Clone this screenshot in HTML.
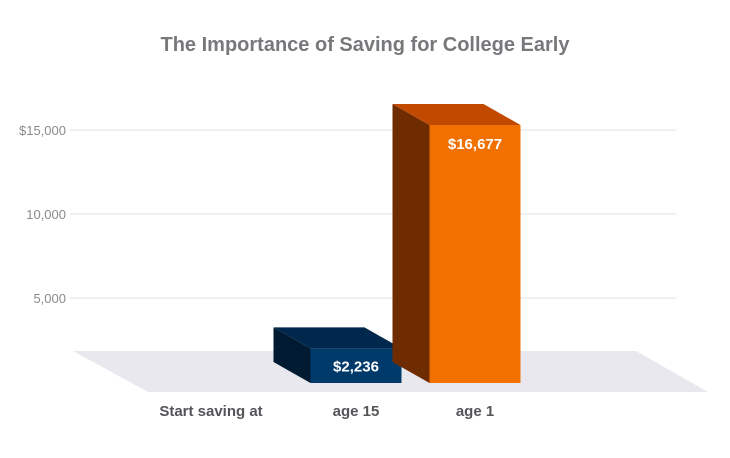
<!DOCTYPE html>
<html><head><meta charset="utf-8"><style>
body{margin:0;background:#fff;}
svg{display:block;font-family:"Liberation Sans",Arial,sans-serif;}
</style></head><body>
<svg id="chart" width="730" height="458" viewBox="0 0 730 458">
<text x="365" y="51" text-anchor="middle" font-size="20" font-weight="bold" fill="#77787b">The Importance of Saving for College Early</text>
<polygon points="73,351 636,351 708,392 148,392" fill="#e9e8ef"/>
<g id="grid"></g><g id="bars"></g>
<text x="211" y="416" text-anchor="middle" font-size="15" font-weight="bold" fill="#545559">Start saving at</text>
</svg>
<script>
const categories = ["age 15", "age 1"];
const values = [2236, 16677];
const valueLabels = ["$2,236", "$16,677"];
const ticks = [5000, 10000, 15000];
const tickLabels = ["5,000", "10,000", "$15,000"];
const NS = "http://www.w3.org/2000/svg";
const gy = v => 382 - v * 0.0168;
const fy = v => 383 - v * 0.01547;
const cx = i => 356 + i * 119;
const W = 91, DX = 37, DY = 21;
function mk(tag, attrs, parent){const e=document.createElementNS(NS,tag);for(const k in attrs)e.setAttribute(k,attrs[k]);parent.appendChild(e);return e;}
const grid=document.getElementById('grid'), bars=document.getElementById('bars');
ticks.forEach((t,i)=>{
  const l=mk('line',{x1:70,x2:676,y1:gy(t),y2:gy(t),stroke:'#e2e1e1','stroke-width':1},grid);
  
  
  const tx=mk('text',{x:66,y:gy(t)+5,'text-anchor':'end','font-size':13,fill:'#8a8a8d'},grid);
  tx.textContent=tickLabels[i];
  
  
});
const cols=[["#003a6b","#001a31","#00284c"],["#f07000","#6e2c00","#c24a00"]];
values.forEach((v,i)=>{
  const x0=cx(i)-W/2, x1=cx(i)+W/2, yt=fy(v), yb=fy(0);
  const g=mk('g',{},bars);
  
  
  mk('polygon',{points:`${x0-DX},${yt-DY} ${x0},${yt} ${x0},${yb} ${x0-DX},${yb-DY}`,fill:cols[i][1]},g);
  mk('polygon',{points:`${x0-DX},${yt-DY} ${x1-DX},${yt-DY} ${x1},${yt} ${x0},${yt}`,fill:cols[i][2]},g);
  mk('rect',{x:x0,y:yt,width:W,height:yb-yt,fill:cols[i][0]},g);
  const lb=mk('text',{x:cx(i),y:Math.min(yt+24,yt+(yb-yt)/2+6),'text-anchor':'middle','font-size':15,'font-weight':'bold',fill:'#fff'},g);
  lb.textContent=valueLabels[i];
  
  
  const cl=mk('text',{x:cx(i),y:416,'text-anchor':'middle','font-size':15,'font-weight':'bold',fill:'#545559'},bars);
  cl.textContent=categories[i];
  
  
});
</script>
</body></html>
